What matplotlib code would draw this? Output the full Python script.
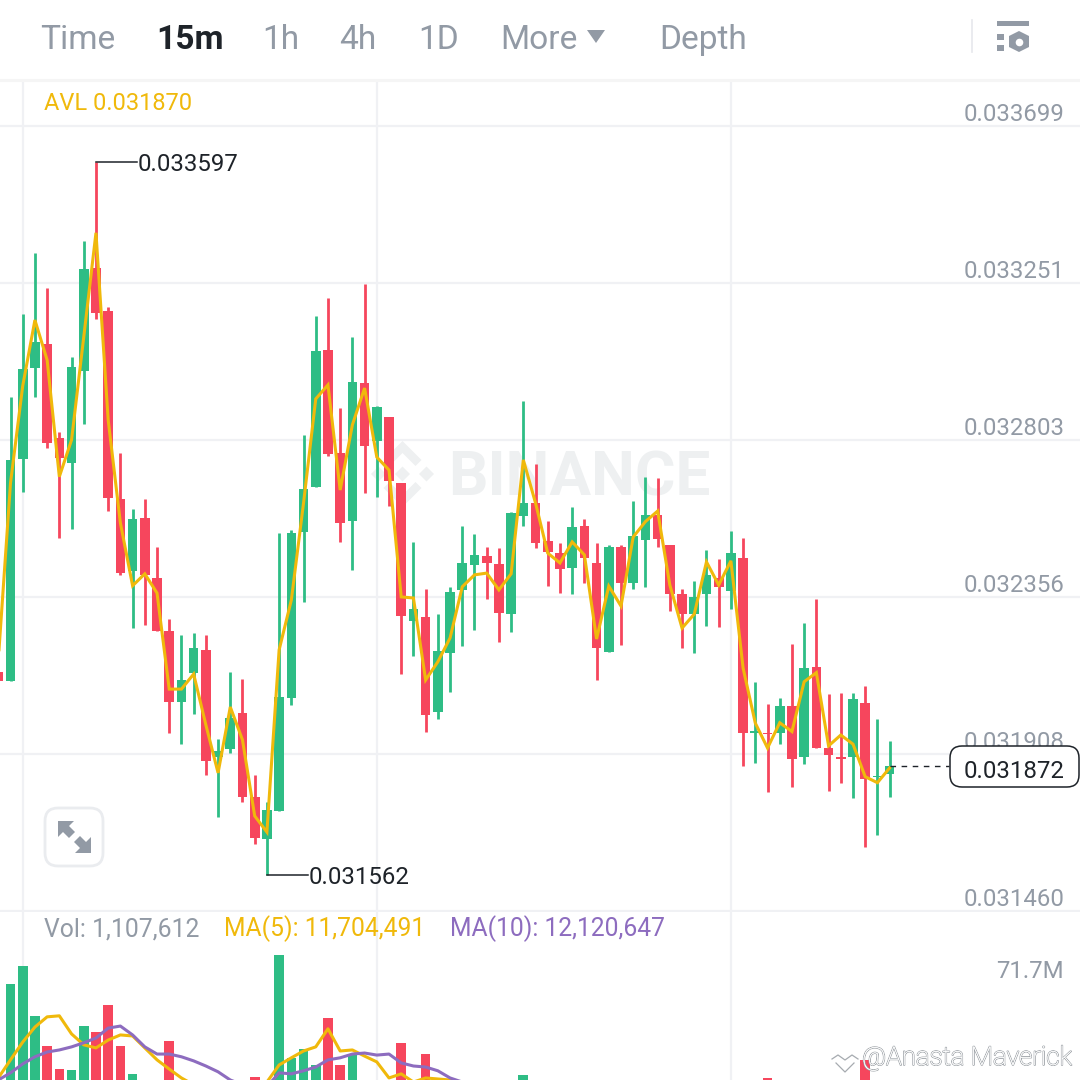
import numpy as np
import matplotlib
matplotlib.use("Agg")
import matplotlib.pyplot as plt
from matplotlib.patches import FancyBboxPatch, Polygon
import matplotlib.patheffects as pe

plt.rcParams['font.family'] = ['Roboto', 'DejaVu Sans']

# Candle number, -1 is the one cut by the left edge
candles = np.arange(-1, 73)

# Prices in millionths
opens = [32141,
 32114,32749,33009,33077,32809,32737,33000,33294,33172,32635,
 32430,32580,32409,32259,32055,32138,32205,31898,31921,32024,
 31784,31664,31744,32068,32541,32669,33060,32766,32572,32966,
 32800,32867,32680,32287,32298,32027,32195,32375,32446,32472,
 32448,32306,32587,32623,32515,32481,32438,32556,32453,32199,
 32498,32396,32518,32589,32503,32362,32306,32364,32408,32373,
 32467,31967,31968,31968,32044,31899,32154,31924,31898,31898,
 32051,31840,31850]
closes = [32115,
 32746,33006,33083,32794,32752,33012,33291,33165,32638,32424,
 32578,32418,32259,32055,32118,32209,31887,31916,32010,31784,
 31667,31747,32070,32538,32663,33057,32763,32566,32968,32787,
 32897,32686,32300,32321,32018,32201,32369,32453,32475,32451,
 32308,32594,32622,32508,32484,32435,32555,32467,32210,32498,
 32394,32529,32590,32521,32364,32306,32354,32418,32382,32481,
 31966,31973,31963,32044,31893,32152,31924,31904,31892,32063,
 31835,31845,31872]
highs = [32141,
 32926,33162,33337,33237,32826,33040,33371,33597,33183,32766,
 32606,32635,32498,32292,32245,32253,32245,31950,32142,32121,
 31847,31771,32538,32546,32817,33158,33208,32894,33097,33249,
 32900,32867,32680,32512,32378,32306,32384,32558,32535,32498,
 32496,32597,32915,32734,32573,32509,32611,32578,32508,32504,
 32504,32630,32697,32695,32503,32378,32401,32489,32464,32544,
 32522,32113,32049,32066,32220,32281,32348,32078,32082,32080,
 32101,32006,31944]
lows = [32115,
 32114,32655,32926,32780,32523,32549,32849,33148,32600,32418,
 32267,32275,32259,31967,31935,32021,31848,31728,31910,31770,
 31650,31562,31744,32047,32341,32669,32757,32512,32432,32652,
 32641,32615,32135,32187,31971,32007,32085,32216,32261,32349,
 32227,32256,32558,32495,32387,32367,32363,32396,32118,32199,
 32218,32379,32384,32498,32316,32209,32194,32273,32270,32321,
 31874,31882,31799,31935,31814,31879,31924,31801,31823,31781,
 31641,31676,31785]
# The only moving average drawn over the candles
price_ma = [32175,
 32680,32957,33145,33031,32698,32803,33097,33394,32860,32566,
 32387,32421,32366,32092,32092,32135,31990,31853,32041,31947,
 31730,31684,32204,32346,32623,32920,32960,32660,32846,32951,
 32754,32717,32355,32352,32118,32170,32238,32384,32418,32423,
 32375,32421,32746,32623,32480,32452,32512,32475,32235,32386,
 32329,32526,32570,32600,32389,32266,32306,32455,32389,32458,
 32152,31995,31924,31996,31971,32113,32139,31930,31961,31935,
 31842,31825,31867]

# Volume in millions; the panel is cut, 0 marks a bar too low to be seen
volume = [0,
 63.2,68.5,53.9,45.1,38.3,38.1,51.0,49.2,57.1,45.1,
 37.0,0,0,46.6,0,0,0,0,0,0,
 35.9,0,71.7,41.6,44.2,39.5,53.3,39.6,42.5,0,
 0,0,46.0,0,42.7,0,0,0,0,0,
 0,0,36.6,0,0,0,0,0,0,0,
 0,0,0,0,0,0,0,0,0,0,
 0,0,35.8,0,0,0,0,0,0,0,
 41.0,0,0]
n = np.nan
vol_ma5 = [35.7,
 41.0,46.2,50.6,53.6,53.9,48.6,45.4,44.5,46.8,48.3,
 48.0,44.5,41.0,38.3,35.7,33.7,n,n,n,n,
 n,34.5,39.5,41.6,43.6,44.8,50.1,43.6,43.9,42.1,
 40.4,35.7,36.9,34.5,35.7,35.4,35.1,33.7,n,n] + [n] * 33
vol_ma10 = [35.1,
 37.2,39.8,41.9,43.3,43.9,44.8,46.0,47.4,50.3,50.9,
 48.3,44.8,42.7,42.7,41.9,40.7,39.2,37.5,35.1,33.7,
 n,33.1,37.2,36.9,37.8,38.9,41.0,41.6,42.7,43.0,
 42.4,42.7,40.1,39.2,38.9,37.8,35.7,34.5,n,n] + [n] * 33

price_ticks = [33699, 33251, 32803, 32356, 31908, 31460]
time_ticks = [1, 30, 59]
tabs = ["Time", "15m", "1h", "4h", "1D", "More", "Depth"]
tab_x = [40, 156, 262, 339, 418, 500, 659]

GREEN, RED = "#2EBD85", "#F6465D"
YELLOW, PURPLE = "#F0B90B", "#8D6CBF"
GRAY, INK, GRID = "#929AA5", "#1E2329", "#F0F1F4"
PX = 100 / 72  # font size in px -> pt is px / PX

to_price = lambda seq: np.array(seq, dtype=float) * 1e-6
o, c, h, l, ma = map(to_price, (opens, closes, highs, lows, price_ma))
up = c >= o
colors = np.where(up, GREEN, RED)

W = 1080
fig = plt.figure(figsize=(10.8, 10.8), dpi=100, facecolor="white")


def px_axes(top, bottom):
    return fig.add_axes([0, 1 - bottom / W, 1, (bottom - top) / W])


STEP = 12.21
XLIM = (-10.5 / STEP, (W - 10.5) / STEP)

# Background: watermark
bg = fig.add_axes([0, 0, 1, 1], zorder=0)
bg.set_xlim(0, W); bg.set_ylim(W, 0); bg.axis("off")
MARK = "#EEF0F1"
cx, cy = 402.5, 474
for dx, dy, r in [(0, 0, 7.5), (-24, 0, 7.5), (24, 0, 7.5)]:
    bg.add_patch(Polygon([(cx+dx-r, cy+dy), (cx+dx, cy+dy-r), (cx+dx+r, cy+dy), (cx+dx, cy+dy+r)],
                         color=MARK, lw=0))
bg.add_patch(Polygon([(cx-19, cy-14), (cx, cy-33), (cx+19, cy-14), (cx+13, cy-8), (cx, cy-21), (cx-13, cy-8)],
                     color=MARK, lw=0))
bg.add_patch(Polygon([(cx-19, cy+14), (cx, cy+33), (cx+19, cy+14), (cx+13, cy+8), (cx, cy+21), (cx-13, cy+8)],
                     color=MARK, lw=0))
bg.text(448, 495, "BINANCE", fontsize=62 / PX, fontweight="bold", color=MARK, va="baseline", ha="left")

# Price panel
ax = px_axes(80, 912)
ax.set_zorder(1); ax.patch.set_alpha(0)
ax.set_xlim(*XLIM)
ax.set_ylim(0.031456, 0.033830)
for s in ax.spines.values():
    s.set_visible(False)
ax.set_xticks(time_ticks); ax.set_xticklabels([])
ax.set_yticks(to_price(price_ticks))
ax.set_yticklabels([f"{v * 1e-6:.6f}" for v in price_ticks])
ax.yaxis.tick_right()
ax.tick_params(axis="both", length=0)
ax.tick_params(axis="y", pad=-116 / PX, labelsize=24 / PX, labelcolor=GRAY)
for t in ax.get_yticklabels():
    t.set_va("bottom")
ax.grid(True, color=GRID, lw=1.6)
ax.set_axisbelow(True)

ax.vlines(candles, l, h, colors=colors, lw=2.0, zorder=2)
ax.bar(candles, np.abs(c - o), bottom=np.minimum(o, c), width=0.79, color=colors, lw=0, zorder=3)
ax.plot(candles, ma, color=YELLOW, lw=2.2, zorder=4, solid_joinstyle="miter")

hi_i, lo_i = int(candles[np.argmax(h)]), int(candles[np.argmin(l)])
ax.plot([hi_i, hi_i + 3.4], [h.max()] * 2, color=INK, lw=1.1, zorder=5)
ax.text(hi_i + 3.4, h.max() - 3 * 2.85e-6, f"{h.max():.6f}", fontsize=24 / PX, color=INK, va="center", ha="left")
ax.plot([lo_i, lo_i + 3.4], [l.min()] * 2, color=INK, lw=1.1, zorder=5)
ax.text(lo_i + 3.4, l.min() - 3 * 2.85e-6, f"{l.min():.6f}", fontsize=24 / PX, color=INK, va="center", ha="left")
ax.plot([candles[-1], 76.9], [c[-1]] * 2, color=INK, lw=1.0, ls=(0, (4, 4)), zorder=5)

# Volume panel
vx = px_axes(911, 1080)
vx.set_zorder(1); vx.patch.set_alpha(0)
vx.set_xlim(*XLIM)
vx.set_ylim(35.1, 84.6)
for s in vx.spines.values():
    s.set_visible(False)
vx.set_xticks(time_ticks); vx.set_xticklabels([]); vx.set_yticks([])
vx.tick_params(length=0)
vx.grid(True, axis="x", color=GRID, lw=1.6)
vx.set_axisbelow(True)
vx.bar(candles, volume, width=0.79, color=colors, lw=0, zorder=2)
vx.plot(candles, vol_ma5, color=YELLOW, lw=2.2, zorder=3)
vx.plot(candles, vol_ma10, color=PURPLE, lw=2.2, zorder=4)

# Overlay: toolbar, captions, current price box
top = fig.add_axes([0, 0, 1, 1], zorder=5)
top.set_xlim(0, W); top.set_ylim(W, 0); top.axis("off")
top.plot([0, W], [80, 80], color="#F5F5F5", lw=2.2)
for name, x in zip(tabs, tab_x):
    active = name == "15m"
    top.text(x, 40, name, fontsize=33.5 / PX, color=INK if active else GRAY,
             fontweight="bold" if active else "normal", va="center", ha="left")
top.add_patch(Polygon([(587, 30), (605, 30), (596, 43)], color=GRAY, lw=0))
top.plot([972, 972], [20, 52], color="#E6E8EC", lw=1.2)
top.add_patch(Polygon([(997, 21), (1029, 21), (1029, 26), (997, 26)], color=GRAY, lw=0))
for yy in (34, 45):
    top.add_patch(Polygon([(997, yy), (1004, yy), (1004, yy + 6), (997, yy + 6)], color=GRAY, lw=0))
top.add_patch(Polygon([(1019, 31), (1029, 36), (1029, 47), (1019, 52), (1009, 47), (1009, 36)], color=GRAY, lw=0))
top.scatter([1019], [41.5], s=30, color="white", lw=0, zorder=3)

top.text(44, 104, "AVL 0.031870", fontsize=23.6 / PX, color=YELLOW, va="center", ha="left")
top.text(44, 929, "Vol: 1,107,612", fontsize=24.8 / PX, color=GRAY, va="center", ha="left")
top.text(224, 929, "MA(5): 11,704,491", fontsize=24.6 / PX, color=YELLOW, va="center", ha="left")
top.text(450, 929, "MA(10): 12,120,647", fontsize=24.6 / PX, color=PURPLE, va="center", ha="left")
top.text(1064, 972, "71.7M", fontsize=24 / PX, color=GRAY, va="center", ha="right")

top.add_patch(FancyBboxPatch((957, 753), 115, 27, boxstyle="round,pad=7,rounding_size=12",
                             fc="white", ec=INK, lw=1.1, zorder=3))
top.text(964, 771, f"{c[-1]:.6f}", fontsize=24 / PX, color=INK, va="center", ha="left", zorder=4)

# Expand button
top.add_patch(FancyBboxPatch((53, 816), 42, 42, boxstyle="round,pad=8,rounding_size=13",
                             fc="white", ec="#EAECEF", lw=2))
top.add_patch(Polygon([(58, 821), (74, 821), (69, 826), (75, 832), (69, 838), (63, 832), (58, 837)], color=GRAY, lw=0))
top.add_patch(Polygon([(91, 853), (75, 853), (80, 848), (74, 842), (80, 836), (86, 842), (91, 837)], color=GRAY, lw=0))

# Author stamp
stamp = top.text(862, 1058, "@Anasta Maverick", fontsize=26 / PX, color="white", va="center", ha="left",
                 fontweight="light", zorder=6)
stamp.set_path_effects([pe.withStroke(linewidth=1.1, foreground="#9EA3A8"), pe.Normal()])
top.plot([832, 838, 845, 852, 858], [1059, 1055, 1060, 1055, 1059], color="#A6ABB0", lw=0.9, zorder=6)
top.plot([836, 845, 854], [1063, 1072, 1063], color="#A6ABB0", lw=0.9, zorder=6)

fig.savefig("out.png", dpi=100, facecolor="white")
